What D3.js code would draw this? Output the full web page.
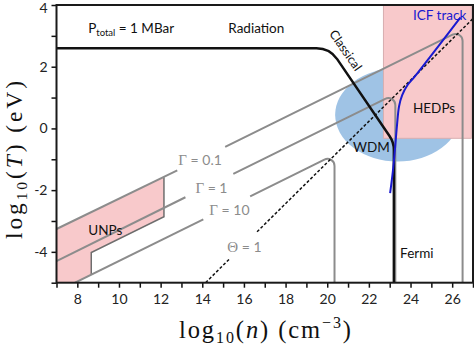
<!DOCTYPE html>
<html><head><meta charset="utf-8">
<script src="https://cdn.jsdelivr.net/npm/d3@7"></script>
<style>body{margin:0;background:#fff}svg{display:block}</style>
</head><body><svg id="c" width="474" height="345"></svg>
<script>
// ---------- data ----------
const xDomain = [7, 27];
const yDomain = [-5, 4];
const xTickValues = [7,8,9,10,11,12,13,14,15,16,17,18,19,20,21,22,23,24,25,26,27];
const xTickLabels = [8,10,12,14,16,18,20,22,24,26];
const yTickValues = [-5,-4,-3,-2,-1,0,1,2,3,4];
const yTickLabels = [-4,-2,0,2,4];

// P_total = 1 MBar boundary (radiation / classical / Fermi)
const pressureCurve = [[7, 2.6], [20.12, 2.6], [23.2, -0.45], [23.2, -5]];
// Coupling lines (segments split where labels sit)
const gamma01Left  = [[7, -3.26], [12.8, -1.36]];
const gamma01Right = [[15.1, -0.6], [26.5, 3.2], [26.5, -5]];
const gamma1Left   = [[7, -4.3], [13.19, -2.23]];
const gamma1Right  = [[15.49, -1.47], [23.27, 1.12], [23.27, -5]];
const gamma10Left  = [[7.89, -5], [14.05, -2.95]];
const gamma10Right = [[16.3, -2.2], [20.35, -0.85], [20.35, -5]];
// Degeneracy line Theta = 1
const thetaLower = [[14.16, -5], [15.35, -4.2]];
const thetaUpper = [[16.63, -3.35], [27, 3.56]];
// ICF track
const icfTrack = [[23.02,-2.1],[23.15,-1.4],[23.25,-0.7],[23.35,0.1],[23.45,0.72],[23.6,1.08],[23.85,1.4],[24.2,1.68],[26.4,3.6]];
// Regions
const unpsRegion = [[7,-3.26],[12.16,-1.58],[12.16,-2.86],[8.67,-4.02],[8.67,-4.74],[7.89,-5],[7,-5]];
const unpsOutline = [[12.16,-1.58],[12.16,-2.86],[8.67,-4.02],[8.67,-4.74]];
const hedpRegion = [[22.7,-0.32],[26.92,4]];
const wdmCenter = [23.38, 0.44];
const wdmRadii = [3.0, 1.51];

// ---------- setup ----------
const svg = d3.select("#c");
const x = d3.scaleLinear().domain(xDomain).range([56.5, 473]);
const y = d3.scaleLinear().domain(yDomain).range([282.7, 5]);
const SANS = "Lato, 'Open Sans', sans-serif";
const SERIF = "'Liberation Serif', 'DejaVu Serif', serif";
const GRAY = "#8c8c8c";

svg.append("defs").append("clipPath").attr("id","clip")
  .append("rect").attr("x",x(7)).attr("y",y(4)).attr("width",x(27)-x(7)).attr("height",y(-5)-y(4));
const plot = svg.append("g").attr("clip-path","url(#clip)");

function roundedPath(pts, r) {
  const s = pts.map(d => [x(d[0]), y(d[1])]);
  const p = d3.path();
  p.moveTo(s[0][0], s[0][1]);
  for (let i = 1; i < s.length - 1; i++) p.arcTo(s[i][0], s[i][1], s[i+1][0], s[i+1][1], r);
  p.lineTo(s[s.length-1][0], s[s.length-1][1]);
  return p.toString();
}
const line = d3.line().x(d => x(d[0])).y(d => y(d[1]));

// WDM ellipse
plot.append("ellipse").attr("cx", x(wdmCenter[0])).attr("cy", y(wdmCenter[1]))
  .attr("rx", x(wdmCenter[0]+wdmRadii[0]) - x(wdmCenter[0]))
  .attr("ry", y(wdmCenter[1]) - y(wdmCenter[1]+wdmRadii[1]))
  .attr("fill", "#9fc3e5");
// HEDP rect
plot.append("rect").attr("x", x(hedpRegion[0][0])).attr("y", y(hedpRegion[1][1]))
  .attr("width", x(hedpRegion[1][0]) - x(hedpRegion[0][0]))
  .attr("height", y(hedpRegion[0][1]) - y(hedpRegion[1][1]))
  .attr("fill", "#f8c9cb").attr("stroke", "#d8aeb0").attr("stroke-width", 1);
// UNPs
plot.append("path").attr("d", line(unpsRegion) + "Z").attr("fill", "#f8c9cb");
plot.append("path").attr("d", line(unpsOutline)).attr("fill","none").attr("stroke","#6e6e6e").attr("stroke-width",1.5);

// Gamma lines
[gamma01Left, gamma01Right, gamma1Left, gamma1Right, gamma10Left, gamma10Right].forEach(seg => {
  plot.append("path").attr("d", roundedPath(seg, 7)).attr("fill","none")
    .attr("stroke", GRAY).attr("stroke-width", 2);
});
// Theta line
[thetaLower, thetaUpper].forEach(seg => {
  plot.append("path").attr("d", line(seg)).attr("fill","none").attr("stroke","#111")
    .attr("stroke-width",1.5).attr("stroke-dasharray","3,2");
});
// Pressure curve
plot.append("path").attr("d", roundedPath(pressureCurve, 25)).attr("fill","none")
  .attr("stroke","#111").attr("stroke-width",2.5);
// ICF track
plot.append("path").attr("d", d3.line().x(d=>x(d[0])).y(d=>y(d[1])).curve(d3.curveCatmullRom)(icfTrack))
  .attr("fill","none").attr("stroke","#1a1ad0").attr("stroke-width",2);

// ---------- axes ----------
const xAxis = d3.axisBottom(x).tickValues(xTickValues).tickSize(5).tickSizeOuter(0)
  .tickFormat(d => xTickLabels.includes(d) ? String(d) : "");
const gx = svg.append("g").attr("transform", `translate(0,${y(-5)})`).call(xAxis);
const yAxis = d3.axisLeft(y).tickValues(yTickValues).tickSize(5).tickSizeOuter(0)
  .tickFormat(d => yTickLabels.includes(d) ? String(d) : "");
const gy = svg.append("g").attr("transform", `translate(${x(7)},0)`).call(yAxis);
[gx, gy].forEach(g => {
  g.select(".domain").remove();
  g.selectAll(".tick line").attr("stroke","#111").attr("stroke-width",1.5);
  g.selectAll(".tick text").attr("font-family", SANS).attr("font-size", 14).attr("fill","#222");
});
gx.selectAll(".tick text").attr("dy", "0.95em");
gy.selectAll(".tick text").attr("dx", "-1").attr("dy", d => d === 4 ? "0.5em" : "0.32em");

// frame
svg.append("rect").attr("x", x(7)).attr("y", y(4)).attr("width", x(27)-x(7)).attr("height", y(-5)-y(4))
  .attr("fill","none").attr("stroke","#1a1a1a").attr("stroke-width",2);

// ---------- annotations ----------
function label(xv, yv, txt, opts = {}) {
  const t = svg.append("text").attr("x", x(xv)).attr("y", y(yv))
    .attr("font-family", SANS).attr("font-size", opts.size || 13.5)
    .attr("fill", opts.color || "#111");
  if (opts.anchor) t.attr("text-anchor", opts.anchor);
  t.text(txt);
  return t;
}
const pt = svg.append("text").attr("x", x(8.52)).attr("y", y(3.08))
  .attr("font-family", SANS).attr("font-size", 13.5).attr("fill","#111");
pt.append("tspan").text("P");
pt.append("tspan").attr("font-size", 9.5).attr("dy", 3).text("total");
pt.append("tspan").attr("dy", -3).text(" = 1 MBar");
label(15.25, 3.09, "Radiation");
label(24.12, 3.51, "ICF track", {color: "#1a1ad0"});
label(24.12, 0.5, "HEDPs");
label(21.24, -0.76, "WDM");
label(23.5, -4.2, "Fermi");
label(8.53, -3.45, "UNPs");

// Classical rotated label
svg.append("text").attr("transform", `translate(${x(20.71)},${y(2.45)}) rotate(55)`)
  .attr("text-anchor","middle").attr("font-family", SANS).attr("font-size", 12.5).attr("fill","#111")
  .text("Classical");

function greekLabel(xv, yv, sym, rest) {
  const t = svg.append("text").attr("x", x(xv)).attr("y", y(yv))
    .attr("font-size", 14).attr("fill", GRAY);
  t.append("tspan").attr("font-family", SERIF).attr("font-size", 15).text(sym);
  t.append("tspan").attr("font-family", SANS).text(rest);
}
greekLabel(12.85, -1.18, "Γ", " = 0.1");
greekLabel(13.67, -2.09, "Γ", " = 1");
greekLabel(14.34, -2.8, "Γ", " = 10");
greekLabel(15.2, -4.0, "Θ", " = 1");

// axis titles
const xt = svg.append("text").attr("x", 265).attr("y", 338).attr("text-anchor","middle")
  .attr("font-family", SERIF).attr("font-size", 24.5).attr("fill","#111")
  .attr("textLength", 172).attr("lengthAdjust", "spacing");
xt.append("tspan").text("log");
xt.append("tspan").attr("font-size", 16).attr("dy", 5).text("10");
xt.append("tspan").attr("dy", -5).text("(");
xt.append("tspan").attr("font-style","italic").text("n");
xt.append("tspan").text(") (cm");
xt.append("tspan").attr("font-size", 16).attr("dy", -10).text("−3");
xt.append("tspan").attr("dy", 10).text(")");

const yt = svg.append("text").attr("transform", "translate(22,160) rotate(-90)").attr("text-anchor","middle")
  .attr("font-family", SERIF).attr("font-size", 23.5).attr("fill","#111")
  .attr("textLength", 158).attr("lengthAdjust", "spacing");
yt.append("tspan").text("log");
yt.append("tspan").attr("font-size", 15.5).attr("dy", 5).text("10");
yt.append("tspan").attr("dy", -5).text("(");
yt.append("tspan").attr("font-style","italic").text("T");
yt.append("tspan").text(") (eV)");
</script></body></html>
